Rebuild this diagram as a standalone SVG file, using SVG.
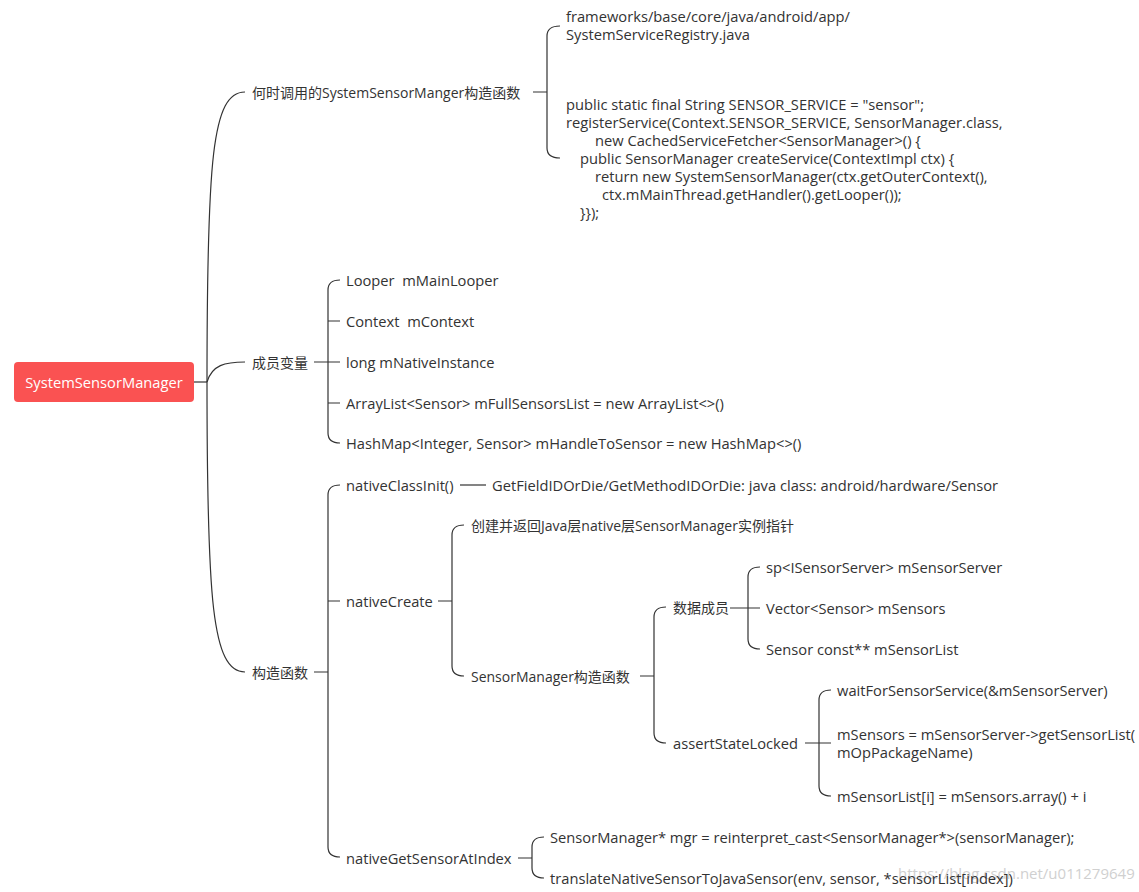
<svg xmlns="http://www.w3.org/2000/svg" width="1139" height="892" viewBox="0 0 1139 892">
<style>
text{font-family:"Open Sans","Noto Sans CJK SC",sans-serif;font-size:14.7px;fill:#333;dominant-baseline:central;white-space:pre}
.cjk{font-size:14px}
.c path,.c line{fill:none;stroke:#333;stroke-width:1.2}
.wm{fill:#d0d0d0;font-size:15px}
</style>
<rect width="1139" height="892" fill="#fff"/>
<text class="wm" x="898" y="873">https://blog.csdn.net/u011279649</text>
<g class="c" id="connectors">
<path d="M194 382H207"/>
<path d="M207 382C207 160 212 92 245 92"/>
<path d="M207 382C212 365 225 362 245 362"/>
<path d="M207 382C207 600 212 672 245 672"/>
<path d="M533 92H547M560 26Q547 26 547 36V148Q547 158 560 158"/>
<path d="M314 362H340M340 280Q328 280 328 290V433Q328 443 340 443M328 321Q328 321 340 321M328 403Q328 403 340 403"/>
<path d="M314 672H328M340 485Q328 485 328 495V847Q328 857 340 857M328 601H340"/>
<line x1="460" y1="485" x2="486" y2="485"/>
<path d="M438 601H452M464 525Q452 525 452 535V666Q452 676 464 676"/>
<path d="M640 676H654M666 607Q654 607 654 617V733Q654 743 666 743"/>
<path d="M730 608H760M760 567Q748 567 748 577V639Q748 649 760 649"/>
<path d="M805 743H831M831 690Q819 690 819 700V786Q819 796 831 796"/>
<path d="M518 858H532M544 837Q532 837 532 847V868Q532 878 544 878"/>
</g>
<g id="root"><rect x="14" y="362" width="180" height="40" rx="4" fill="#fa5252"/><text x="104" y="382" text-anchor="middle" style="fill:#fff">SystemSensorManager</text></g>
<g id="n-when"><text class="cjk" x="252" y="92">何时调用的SystemSensorManger构造函数</text></g>
<g id="n-file"><text x="566" y="16">frameworks/base/core/java/android/app/</text><text x="566" y="34">SystemServiceRegistry.java</text></g>
<g id="n-code">
<text x="566" y="104">public static final String SENSOR_SERVICE = "sensor";</text>
<text x="566" y="122">registerService(Context.SENSOR_SERVICE, SensorManager.class,</text>
<text x="595" y="140">new CachedServiceFetcher&lt;SensorManager&gt;() {</text>
<text x="580" y="158">public SensorManager createService(ContextImpl ctx) {</text>
<text x="595" y="176">return new SystemSensorManager(ctx.getOuterContext(),</text>
<text x="602" y="194">ctx.mMainThread.getHandler().getLooper());</text>
<text x="580" y="212">}});</text>
</g>
<g id="n-members"><text class="cjk" x="252" y="362">成员变量</text></g>
<g id="m1"><text x="346" y="280">Looper  mMainLooper</text></g>
<g id="m2"><text x="346" y="321">Context  mContext</text></g>
<g id="m3"><text x="346" y="362">long mNativeInstance</text></g>
<g id="m4"><text x="346" y="403">ArrayList&lt;Sensor&gt; mFullSensorsList = new ArrayList&lt;&gt;()</text></g>
<g id="m5"><text x="346" y="443">HashMap&lt;Integer, Sensor&gt; mHandleToSensor = new HashMap&lt;&gt;()</text></g>
<g id="n-ctor"><text class="cjk" x="252" y="672">构造函数</text></g>
<g id="n-classinit"><text x="346" y="485">nativeClassInit()</text></g>
<g id="n-getfield"><text x="492" y="485">GetFieldIDOrDie/GetMethodIDOrDie: java class: android/hardware/Sensor</text></g>
<g id="n-create"><text x="346" y="601">nativeCreate</text></g>
<g id="n-createdesc"><text class="cjk" x="471" y="525">创建并返回Java层native层SensorManager实例指针</text></g>
<g id="n-smctor"><text class="cjk" x="471" y="676">SensorManager构造函数</text></g>
<g id="n-data"><text class="cjk" x="673" y="607">数据成员</text></g>
<g id="d1"><text x="766" y="567">sp&lt;ISensorServer&gt; mSensorServer</text></g>
<g id="d2"><text x="766" y="608">Vector&lt;Sensor&gt; mSensors</text></g>
<g id="d3"><text x="766" y="649">Sensor const** mSensorList</text></g>
<g id="n-assert"><text x="673" y="743">assertStateLocked</text></g>
<g id="a1"><text x="837" y="690">waitForSensorService(&amp;mSensorServer)</text></g>
<g id="a2"><text x="837" y="734">mSensors = mSensorServer-&gt;getSensorList(</text><text x="837" y="752">mOpPackageName)</text></g>
<g id="a3"><text x="837" y="796">mSensorList[i] = mSensors.array() + i</text></g>
<g id="n-getat"><text x="346" y="858">nativeGetSensorAtIndex</text></g>
<g id="g1"><text x="550" y="837">SensorManager* mgr = reinterpret_cast&lt;SensorManager*&gt;(sensorManager);</text></g>
<g id="g2"><text x="550" y="878">translateNativeSensorToJavaSensor(env, sensor, *sensorList[index])</text></g>
</svg>
